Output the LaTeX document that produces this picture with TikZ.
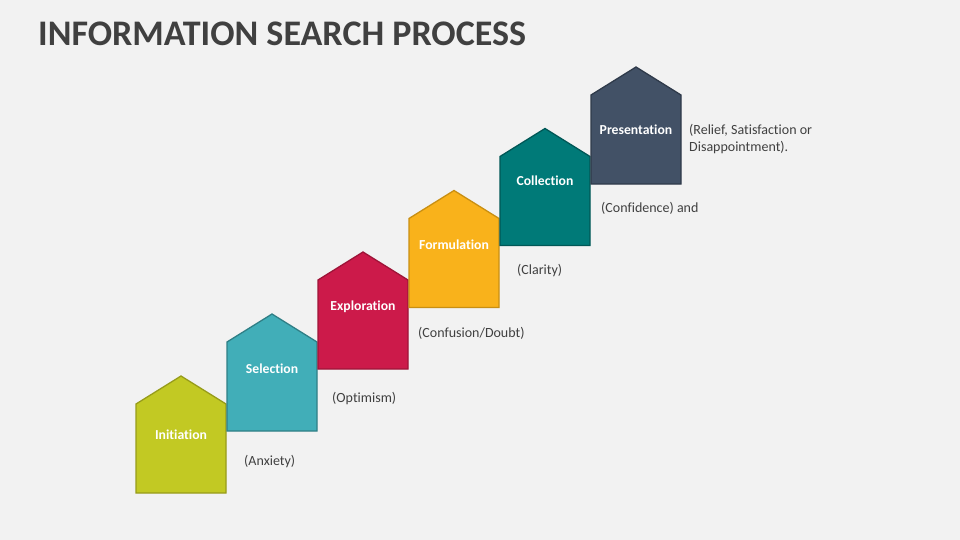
\documentclass[tikz,border=0pt]{standalone}
\usepackage{fontspec}
\setmainfont{Carlito}[Ligatures={NoCommon}]
\definecolor{bg}{HTML}{F2F2F2}
\definecolor{txt}{HTML}{404040}
\definecolor{cA}{HTML}{C2C923}\definecolor{bA}{HTML}{979C1A}
\definecolor{cB}{HTML}{41AEB8}\definecolor{bB}{HTML}{2F7F86}
\definecolor{cC}{HTML}{CC1A4A}\definecolor{bC}{HTML}{9E1438}
\definecolor{cD}{HTML}{F9B21B}\definecolor{bD}{HTML}{C98F12}
\definecolor{cE}{HTML}{007A78}\definecolor{bE}{HTML}{005756}
\definecolor{cF}{HTML}{425166}\definecolor{bF}{HTML}{2F3A4A}
\tikzset{
  house/.style={line width=1.3pt, line join=miter},
  steplabel/.style={font=\fontsize{13.7}{16}\selectfont\bfseries, text=white, inner sep=0pt},
  sidelabel/.style={font=\fontsize{14}{17}\selectfont, text=txt, inner sep=0pt, anchor=west, align=left},
}
\newcommand{\house}[4]{% #1 left x, #2 peak y, #3 fill, #4 border
  \filldraw[house, fill=#3, draw=#4] (#1,#2+117) -- (#1,#2+28) -- (#1+45,#2) -- (#1+90,#2+28) -- (#1+90,#2+117) -- cycle;
}
\begin{document}
\begin{tikzpicture}[x=1pt,y=-1pt]
\fill[bg] (0,0) rectangle (960,540);
\useasboundingbox (0,0) rectangle (960,540);
\node[anchor=west, inner sep=0pt, text=txt, font=\fontsize{36}{40}\selectfont\bfseries] (title) at (38,34) {INFORMATION SEARCH PROCESS};
\house{136}{376}{cA}{bA}
\house{227}{314}{cB}{bB}
\house{318}{252}{cC}{bC}
\house{409}{190.5}{cD}{bD}
\house{500}{128.5}{cE}{bE}
\house{591}{67}{cF}{bF}
\node[steplabel] (s1) at (181,435) {Initiation};
\node[steplabel] (s2) at (272,369) {Selection};
\node[steplabel] (s3) at (363,307) {Exploration};
\node[steplabel] (s4) at (454,245) {Formulation};
\node[steplabel] (s5) at (545,181) {Collection};
\node[steplabel] (s6) at (636,130) {Presentation};
\node[sidelabel] (l1) at (244,462) {(Anxiety)};
\node[sidelabel] (l2) at (332,399) {(Optimism)};
\node[sidelabel] (l3) at (418,333) {(Confusion/Doubt)};
\node[sidelabel] (l4) at (517,271) {(Clarity)};
\node[sidelabel] (l5) at (601,208) {(Confidence) and};
\node[sidelabel] (l6) at (689,139) {(Relief, Satisfaction or\\Disappointment).};
\end{tikzpicture}
\end{document}
